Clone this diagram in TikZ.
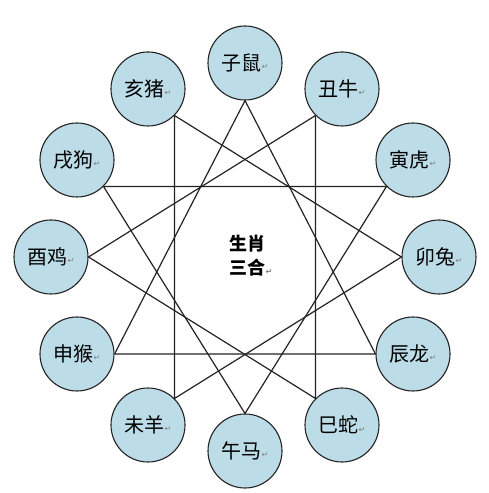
\documentclass[tikz,border=0pt]{standalone}
\usepackage{fontspec}
\setmainfont{Noto Sans CJK SC}
\newfontfamily\arrowfont{DejaVu Sans}
\usepackage{tikz}
\usetikzlibrary{calc}
\definecolor{signblue}{RGB}{188,220,232}
\definecolor{linegray}{RGB}{35,35,35}
\newcommand{\retmark}{{\arrowfont\fontsize{8}{8}\selectfont\color{gray}\raisebox{0.1em}{↵}}}
\newcommand{\zsign}[3]{\node[zodiac] (#1) at (#2:194) {#3\retmark};}

\begin{document}
\begin{tikzpicture}[x=1pt, y=1pt,
        zodiac/.style={circle, draw=linegray, fill=signblue, line width=1.1pt,
            minimum size=74pt, inner sep=0pt, font=\fontsize{20}{20}\selectfont},
        link/.style={draw=linegray, line width=1.2pt}]
    \useasboundingbox (0,0) rectangle (489,493);
    \begin{scope}[shift={(245,236)}]
        % right half
        \zsign{zi}{90}{子鼠}
        \zsign{chou}{60}{丑牛}
        \zsign{yin}{30}{寅虎}
        \zsign{mao}{0}{卯兔}
        \zsign{chen}{-30}{辰龙}
        \zsign{si}{-60}{巳蛇}
        % left half
        \zsign{wu}{-90}{午马}
        \zsign{wei}{-120}{未羊}
        \zsign{shen}{-150}{申猴}
        \zsign{you}{180}{酉鸡}
        \zsign{xu}{150}{戌狗}
        \zsign{hai}{120}{亥猪}
    \end{scope}
    \node[anchor=west, align=left, font=\bfseries\fontsize{18}{24}\selectfont] (title) at (226,237) {生肖\\三合\retmark};
    % shen zi chen
    \draw[link] (shen.0) -- (zi.-90) -- (chen.180) -- (shen.0);
    % yin wu xu
    \draw[link] (xu.-45) -- (wu.90) -- (yin.-135) -- (xu.-45);
    % hai mao wei
    \draw[link] (hai.-45) -- (mao.180) -- (wei.45) -- (hai.-45);
    % si you chou
    \draw[link] (chou.-135) -- (you.0) -- (si.135) -- (chou.-135);
\end{tikzpicture}
\end{document}
